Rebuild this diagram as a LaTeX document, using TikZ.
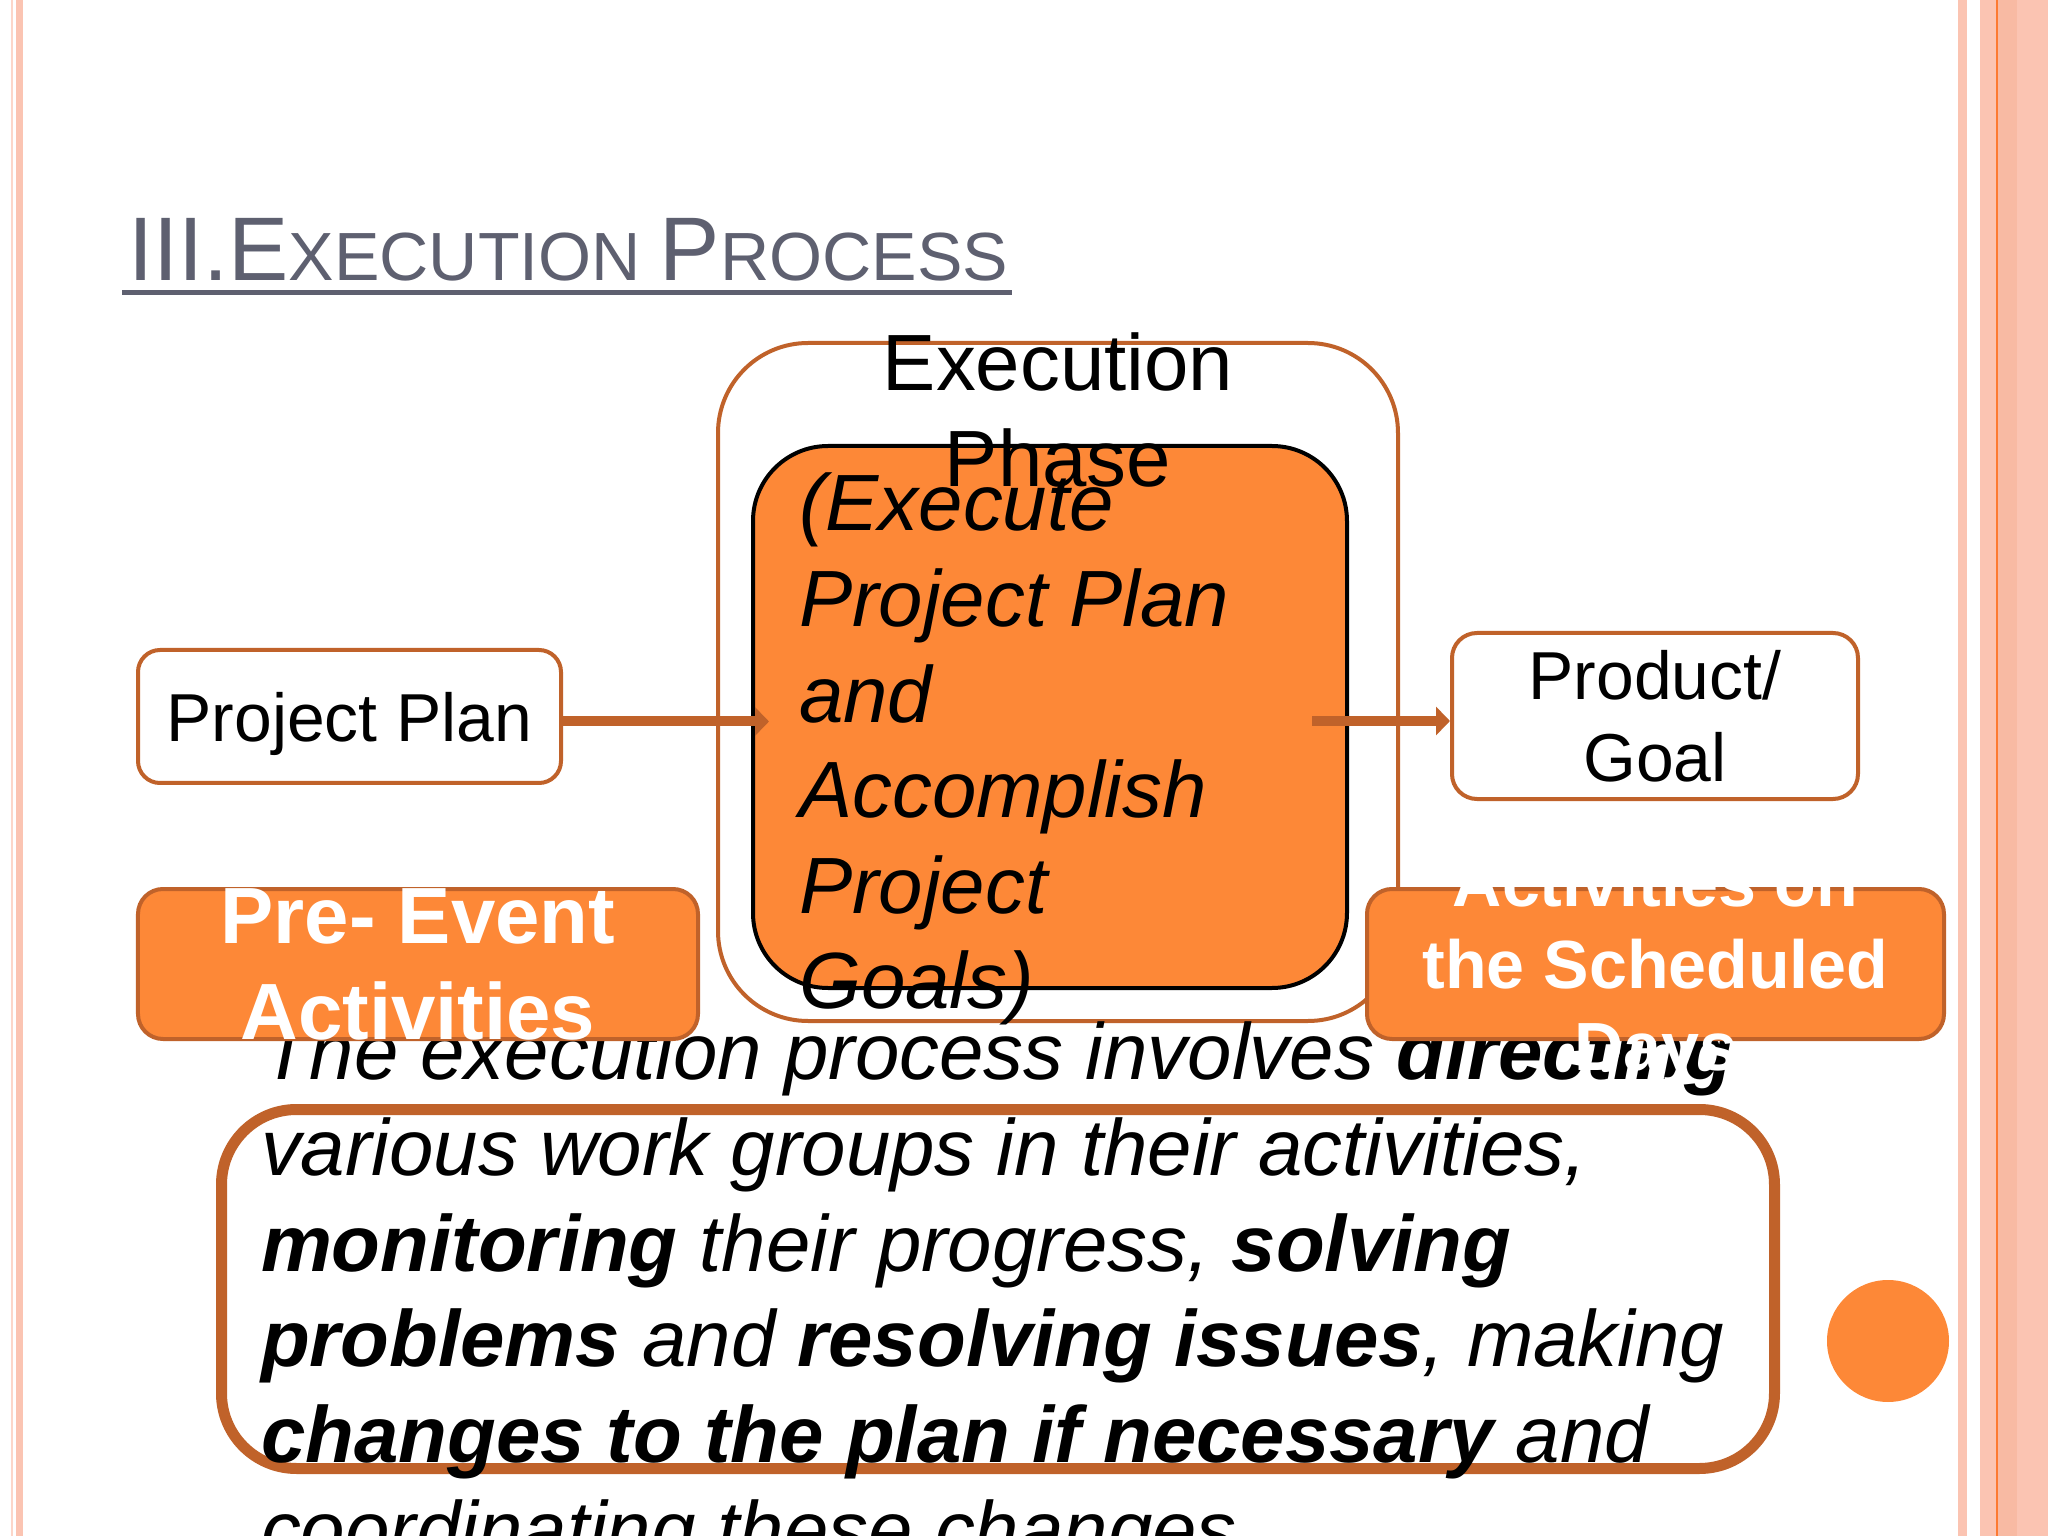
\documentclass[tikz,border=0pt]{standalone}
\usepackage{fontspec}
\setmainfont{Liberation Sans}
\usepackage{xcolor}
\usetikzlibrary{positioning, arrows.meta}

\definecolor{rust}{RGB}{192,98,42}
\definecolor{tangerine}{RGB}{253,136,55}
\definecolor{salmon}{RGB}{251,196,178}
\definecolor{salmondark}{RGB}{248,186,163}
\definecolor{slate}{RGB}{94,96,112}

\newcommand{\titlebig}{\fontsize{25.7}{30}\selectfont}
\newcommand{\titlesmall}{\fontsize{19.4}{23}\selectfont}
\newcommand{\boxfont}{\fontsize{22.7}{27.2}\selectfont}
\newcommand{\labelfont}{\fontsize{19.3}{23.2}\selectfont}
\newcommand{\schedfont}{\fontsize{19.4}{23.3}\selectfont}

\begin{document}
\begin{tikzpicture}[>={Triangle[length=1.4mm,width=2.8mm]},semithick,
    box/.style={draw=rust,line width=0.4mm,fill=white,rounded corners=2.2mm},
    eventbox/.style={draw=rust,line width=0.4mm,fill=tangerine,rounded corners=2.5mm},
    eventtext/.style={text=white,font=\boxfont\bfseries,align=center,text depth=0pt},
    flow/.style={->,draw=rust,line width=1mm}]
        \tikzstyle{every node}=[inner sep=0pt]

        \path[use as bounding box] (0,0) rectangle (20.48,-15.36);

        % slide edges
        \fill[salmon!70] (0.11,0) rectangle (0.13,-15.36);
        \fill[salmon] (0.16,0) rectangle (0.23,-15.36);
        \fill[salmon] (19.58,0) rectangle (19.67,-15.36);
        \fill[salmon] (19.80,0) rectangle (20.48,-15.36);
        \fill[salmondark] (19.98,0) rectangle (20.17,-15.36);
        \draw[tangerine!90!red, line width=0.15mm] (19.97,0) -- (19.97,-15.36);

        % heading
        \node[anchor=base west, text=slate] (title) at (1.27,-2.81)
            {{\titlebig III.E}{\titlesmall XECUTION }{\titlebig P}{\titlesmall ROCESS}};
        \draw[slate, line width=0.5mm] ([xshift=-0.5mm,yshift=-1.2mm]title.base west) -- ([xshift=0.3mm,yshift=-1.2mm]title.base east);

        % execution phase
        \node[box, rounded corners=9mm, minimum width=6.80cm, minimum height=6.78cm] (phase) at (10.58,-6.82) {};
        \node[draw=black, line width=0.4mm, fill=tangerine, rounded corners=7.5mm,
              minimum width=5.94cm, minimum height=5.42cm] (core) at (10.50,-7.17) {};
        \node[anchor=north, align=center, font=\boxfont] (phasename) at (10.58,-3.32) {Execution\\Phase};
        \node[anchor=north west, align=left, font=\boxfont\itshape] (coretext) at (7.98,-4.72)
            {(Execute\\Project Plan\\and\\Accomplish\\Project\\Goals)};

        \node[box, minimum width=4.23cm, minimum height=1.33cm, font=\labelfont, text depth=0pt] (plan) at (3.495,-7.165) {Project Plan};
        \node[box, rounded corners=2.5mm, minimum width=4.06cm, minimum height=1.66cm, font=\labelfont,
              align=center, text depth=0pt] (goal) at (16.55,-7.16) {Product/\\Goal};

        \draw[flow] ([yshift=-0.5mm]plan.east) -- ([xshift=1.8mm,yshift=-0.5mm]core.west |- plan.east);
        \draw[flow] ([xshift=-3.7mm,yshift=-0.5mm]core.east |- goal.west) -- ([yshift=-0.5mm]goal.west);

        % summary
        \node[box, line width=1.1mm, rounded corners=7.5mm, minimum width=15.53cm, minimum height=3.59cm] (summary) at (9.98,-12.89) {};
        \node[anchor=north west, align=left, font=\boxfont\itshape] (summarytext) at (2.60,-10.21)
            {The execution process involves \textbf{directing}\\
             various work groups in their activities,\\
             \textbf{monitoring} their progress, \textbf{solving}\\
             \textbf{problems} and \textbf{resolving issues}, making\\
             \textbf{changes to the plan if necessary} and\\
             coordinating these changes};

        \node[eventbox, minimum width=5.60cm, minimum height=1.50cm] (pre) at (4.18,-9.64) {};
        \node[eventtext] (pretext) at (pre.center) {Pre- Event\\Activities};
        \node[eventbox, minimum width=5.77cm, minimum height=1.50cm] (sched) at (16.555,-9.64) {};
        \node[eventtext, font=\schedfont\bfseries] (schedtext) at (sched.center) {Activities on\\the Scheduled\\Days};

        \node[circle, fill=tangerine, minimum size=1.22cm] (dot) at (18.88,-13.41) {};
    \end{tikzpicture}
\end{document}
